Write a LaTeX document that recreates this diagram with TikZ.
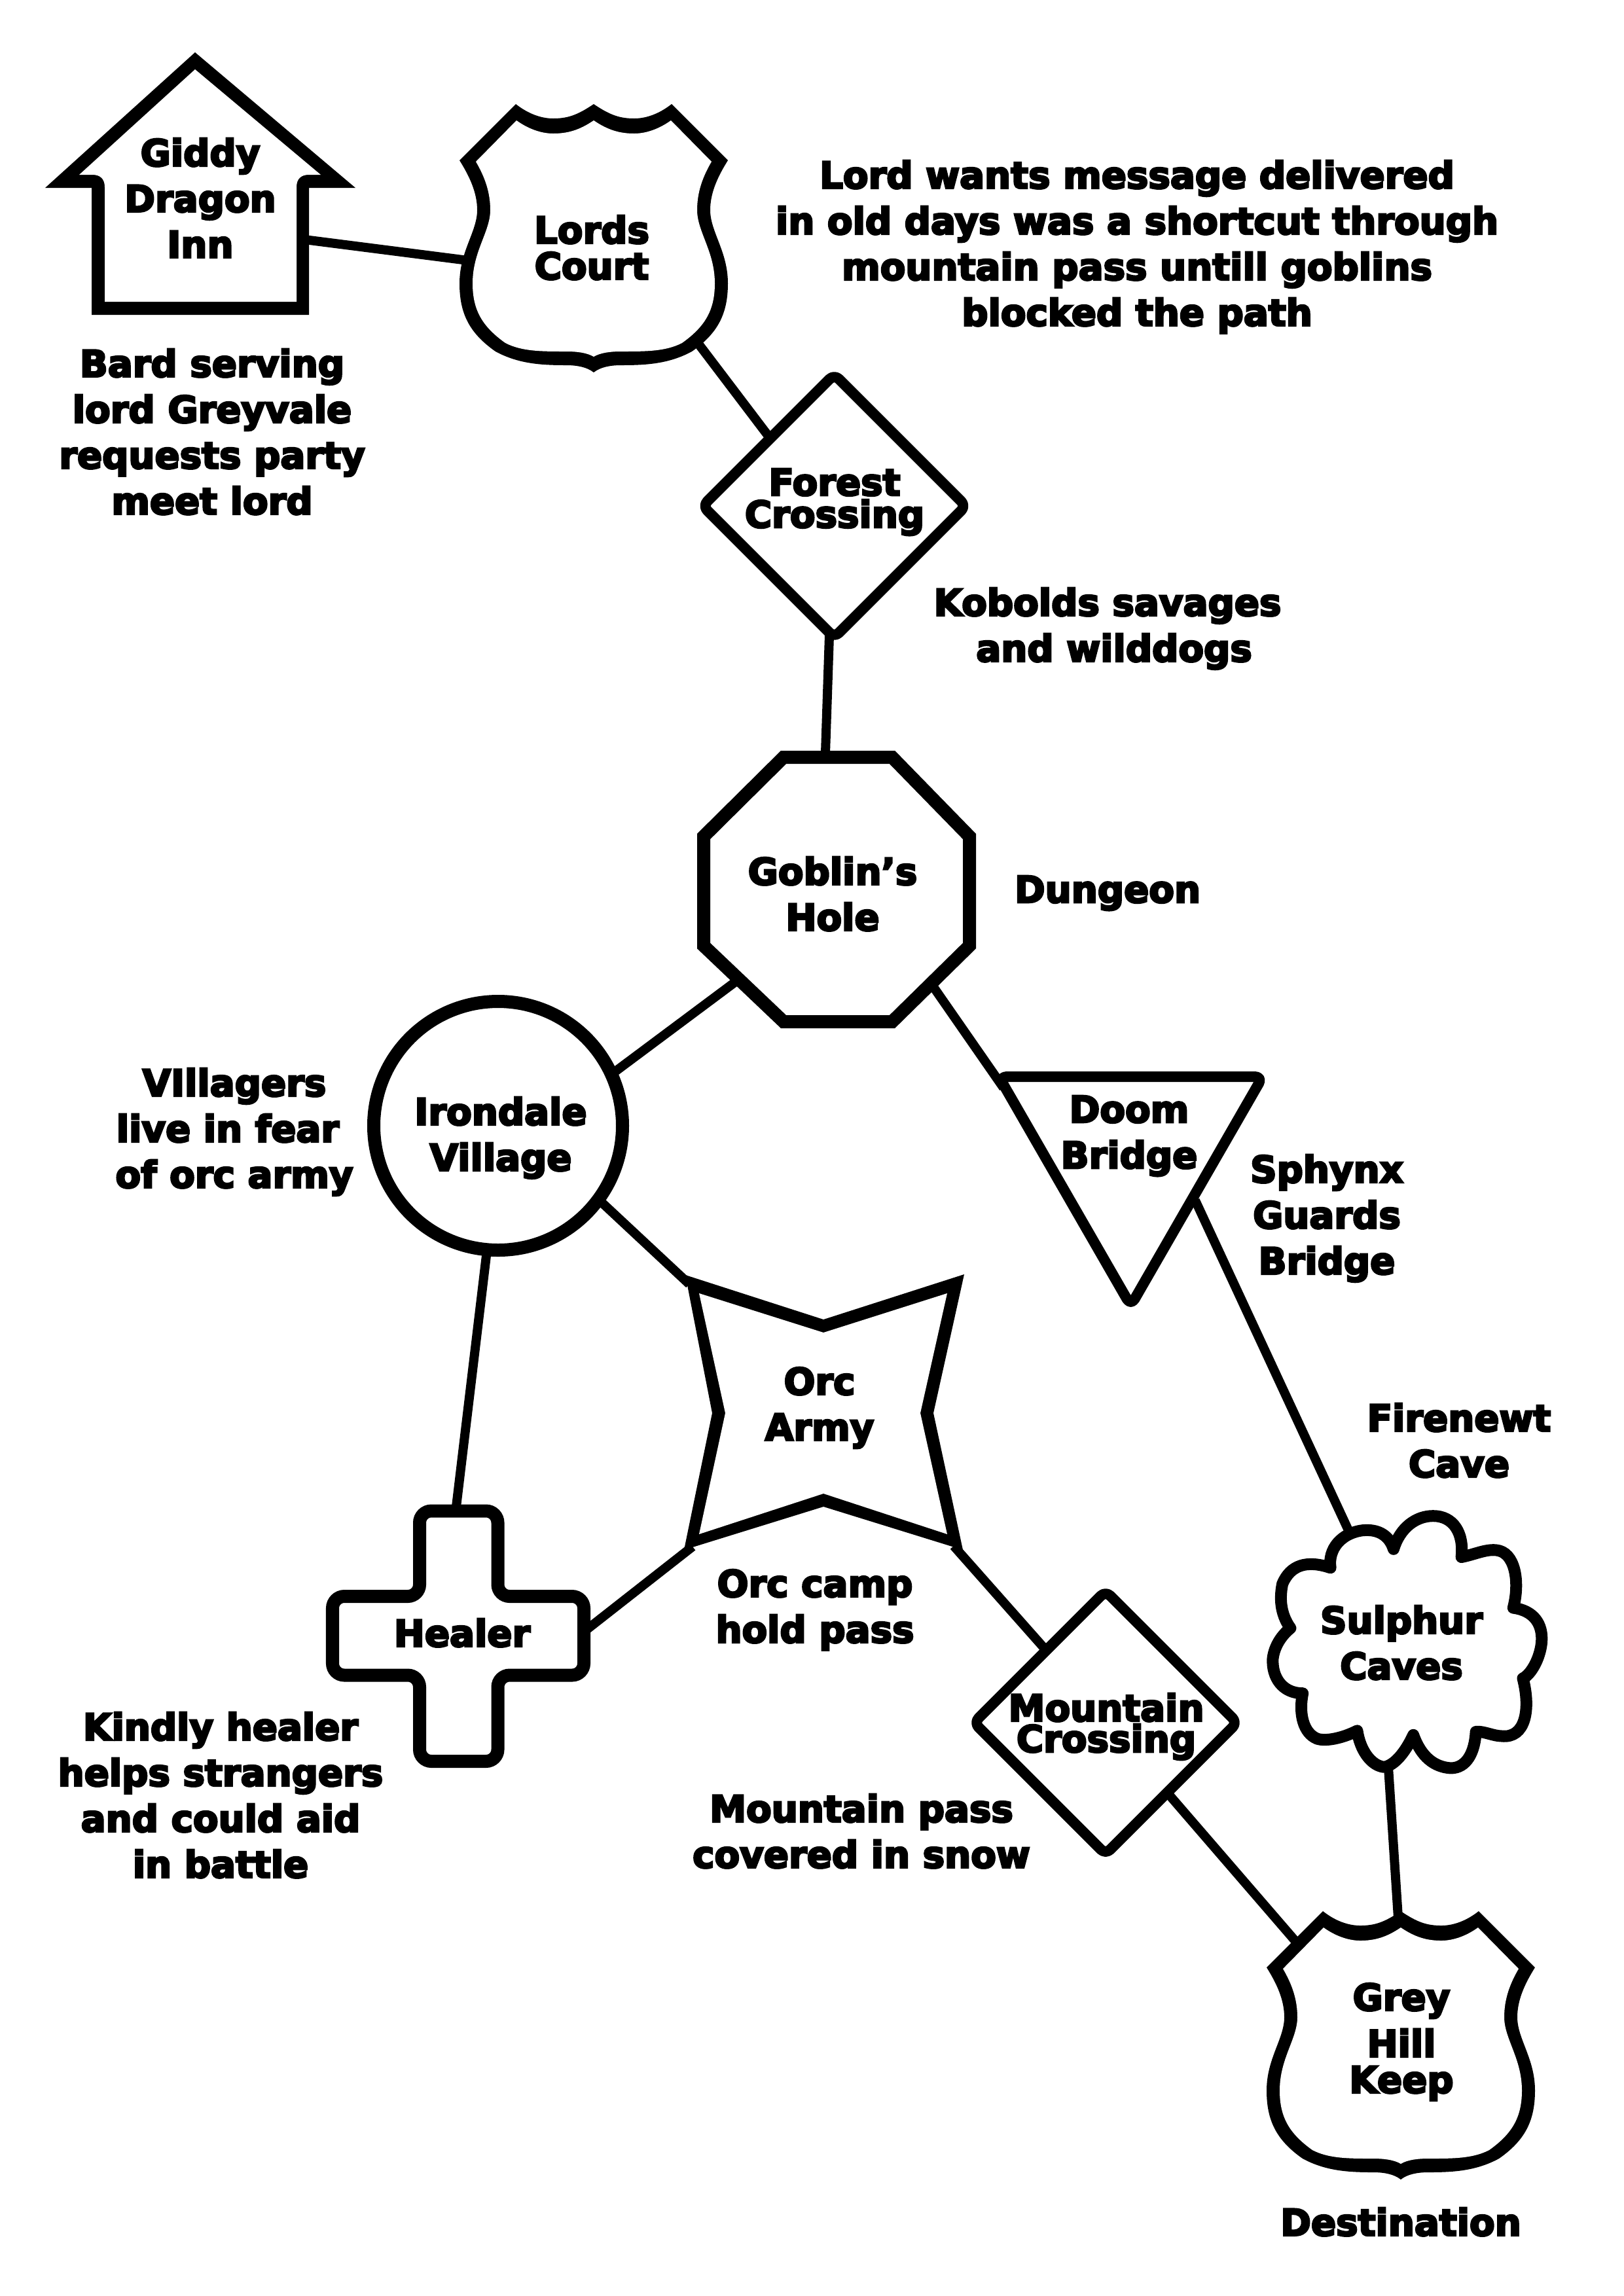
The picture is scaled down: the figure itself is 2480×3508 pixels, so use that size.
\documentclass[tikz,border=0pt]{standalone}
\usepackage{fontspec}
\setmainfont{DejaVu Sans}[BoldFeatures={FakeBold=5}]
\tikzset{
  labelbox/.style={anchor=north,inner sep=0pt,outer sep=0pt,align=center,text=black,
    font=\fontsize{16pt}{#1}\selectfont\bfseries},
  labelbox/.default=19.9pt,
  link/.style={draw=black,line width=0.14cm},
  outline/.style={draw=black,fill=white,line width=0.16cm},
  diamondshape/.pic={
    \path[outline,line join=round,rounded corners=0.1cm] (0,-201) -- (201,0) -- (0,201) -- (-201,0) -- cycle;
  },
  shieldshape/.pic={
    \fill[black] (0,0) .. controls (-25,17) and (-40,22) .. (-62,22)
      .. controls (-80,22) and (-100,15) .. (-119,0) -- (-205,86)
      .. controls (-190,110) and (-178,135) .. (-178,162)
      .. controls (-178,195) and (-205,225) .. (-205,274)
      .. controls (-205,320) and (-190,350) .. (-150,378)
      .. controls (-115,397) and (-80,399) .. (-42,399)
      .. controls (-25,399) and (-10,402) .. (0,410)
      .. controls (10,402) and (25,399) .. (42,399)
      .. controls (80,399) and (115,397) .. (150,378)
      .. controls (190,350) and (205,320) .. (205,274)
      .. controls (205,225) and (178,195) .. (178,162)
      .. controls (178,135) and (190,110) .. (205,86) -- (119,0)
      .. controls (100,15) and (80,22) .. (62,22)
      .. controls (40,22) and (25,17) .. (0,0) -- cycle;
    \fill[white] (0,25) .. controls (-22,40) and (-40,45) .. (-62,45)
      .. controls (-80,45) and (-100,38) .. (-118,25) -- (-180,88)
      .. controls (-166,112) and (-158,135) .. (-158,162)
      .. controls (-158,195) and (-185,225) .. (-185,274)
      .. controls (-185,315) and (-170,340) .. (-135,365)
      .. controls (-110,378) and (-80,378) .. (-42,378)
      .. controls (-25,378) and (-10,380) .. (0,386)
      .. controls (10,380) and (25,378) .. (42,378)
      .. controls (80,378) and (110,378) .. (135,365)
      .. controls (170,340) and (185,315) .. (185,274)
      .. controls (185,225) and (158,195) .. (158,162)
      .. controls (158,135) and (166,112) .. (180,88) -- (118,25)
      .. controls (100,38) and (80,45) .. (62,45)
      .. controls (40,45) and (22,40) .. (0,25) -- cycle;
  }
}
\begin{document}
\begin{tikzpicture}[x=0.01cm,y=-0.01cm]
\useasboundingbox (0,0) rectangle (2480,3508);
\fill[white] (0,0) rectangle (2480,3508);

% connector ends
\coordinate (innE) at (465,366);
\coordinate (courtW) at (715,398);
\coordinate (courtS) at (1063,520);
\coordinate (forestN) at (1176,669);
\coordinate (forestS) at (1267,971);
\coordinate (goblinN) at (1261,1150);
\coordinate (goblinW) at (1125,1499);
\coordinate (villageNE) at (936,1640);
\coordinate (goblinE) at (1424,1505);
\coordinate (doomW) at (1533,1662);
\coordinate (villageS) at (744,1910);
\coordinate (healerN) at (697,2302);
\coordinate (villageSE) at (918,1836);
\coordinate (orcNW) at (1053,1962);
\coordinate (orcSW) at (1058,2363);
\coordinate (healerE) at (896,2490);
\coordinate (orcSE) at (1457,2362);
\coordinate (mountainN) at (1596,2519);
\coordinate (doomE) at (1826,1834);
\coordinate (sulphurN) at (2060,2338);
\coordinate (sulphurS) at (2121,2700);
\coordinate (keepN) at (2136,2930);
\coordinate (mountainS) at (1785,2741);
\coordinate (keepW) at (1981,2968);

\draw[link] (innE) -- (courtW);
\draw[link] (courtS) -- (forestN);
\draw[link] (forestS) -- (goblinN);
\draw[link] (goblinW) -- (villageNE);
\draw[link] (goblinE) -- (doomW);
\draw[link] (villageS) -- (healerN);
\draw[link] (villageSE) -- (orcNW);
\draw[link] (orcSW) -- (healerE);
\draw[link] (orcSE) -- (mountainN);
\draw[link] (doomE) -- (sulphurN);
\draw[link] (sulphurS) -- (keepN);
\draw[link] (mountainS) -- (keepW);

% house
\fill[black] (298,80) -- (543,287) -- (472,287) -- (472,481) -- (140,481) -- (140,287) -- (69,287) -- cycle;
\fill[white] (298,106) -- (490,267) -- (472,267) .. controls (460,267) and (453,273) .. (453,286)
  -- (453,461) -- (160,461) -- (160,286) .. controls (160,273) and (153,267) .. (141,267) -- (121,267) -- cycle;

% shields
\pic at (907,159) {shieldshape};
\pic at (2140,2920) {shieldshape};

% diamonds
\pic at (1274.5,773) {diamondshape};
\pic at (1689,2632) {diamondshape};

% octagon
\path[outline,line width=0.2cm] (1197,1157) -- (1363,1157) -- (1481,1278) -- (1481,1445)
  -- (1363,1561) -- (1197,1561) -- (1075,1445) -- (1075,1278) -- cycle;

% circle
\path[outline,line width=0.2cm] (761,1720) circle [radius=190];

% triangle
\path[outline,line join=round,rounded corners=0.12cm] (1526,1645) -- (1929,1645) -- (1727.5,1995) -- cycle;

% star
\fill[black] (1047,1948) -- (1258,2016) -- (1473,1947) -- (1426,2159) -- (1471,2368)
  -- (1258,2302) -- (1045,2368) -- (1088,2159) -- cycle;
\fill[white] (1068,1976) -- (1258,2036) -- (1447,1976) -- (1406,2159) -- (1447,2344)
  -- (1258,2282) -- (1068,2344) -- (1108,2159) -- cycle;

% cross
\path[outline,line width=0.2cm,rounded corners=0.18cm]
  (641,2308.5) -- (760.5,2308.5) -- (760.5,2439) -- (892,2439) -- (892,2559.5) -- (760.5,2559.5)
  -- (760.5,2691) -- (641,2691) -- (641,2559.5) -- (508,2559.5) -- (508,2439) -- (641,2439) -- cycle;

% cloud
\begin{scope}[shift={(1200,2228)},scale=0.8163]
\path[outline,line width=0.18cm,line join=round]
  (1138,170) .. controls (1150,130) and (1180,108) .. (1212,108)
  .. controls (1250,108) and (1270,140) .. (1265,185)
  .. controls (1290,180) and (1310,170) .. (1330,172)
  .. controls (1365,175) and (1375,230) .. (1362,280)
  .. controls (1400,285) and (1418,310) .. (1415,345)
  .. controls (1412,375) and (1395,405) .. (1380,412)
  .. controls (1395,470) and (1385,525) .. (1340,520)
  .. controls (1325,520) and (1305,510) .. (1292,512)
  .. controls (1290,550) and (1275,580) .. (1245,580)
  .. controls (1215,578) and (1190,560) .. (1175,518)
  .. controls (1160,550) and (1140,575) .. (1120,578)
  .. controls (1095,575) and (1075,545) .. (1070,510)
  .. controls (1040,525) and (1010,530) .. (995,525)
  .. controls (970,515) and (960,480) .. (968,440)
  .. controls (930,440) and (910,410) .. (912,375)
  .. controls (915,350) and (930,330) .. (945,318)
  .. controls (925,290) and (925,260) .. (930,235)
  .. controls (945,200) and (975,190) .. (1020,205)
  .. controls (1015,170) and (1040,140) .. (1080,135)
  .. controls (1110,132) and (1130,145) .. (1138,170) -- cycle;
\end{scope}

% texts
\node[labelbox] (inn) at (306,211) {Giddy\\Dragon\\Inn};
\node[labelbox=15.65pt] (court) at (904,329) {Lords\\Court};
\node[labelbox] (bard) at (324,533) {Bard serving\\lord Greyvale\\requests party\\meet lord};
\node[labelbox] (quest) at (1737,245) {Lord wants message delivered\\in old days was a shortcut through\\mountain pass untill goblins\\blocked the path};
\node[labelbox=13.94pt] (forest) at (1275,716) {Forest\\Crossing};
\node[labelbox] (kobolds) at (1692,898) {Kobolds savages\\\hspace*{0.2cm}and wilddogs};
\node[labelbox] (goblin) at (1272,1309) {Goblin’s\\Hole};
\node[labelbox] (dungeon) at (1692,1338) {Dungeon};
\node[labelbox] (villagers) at (358,1632) {VIllagers\\live in fear\rule{0.2cm}{0pt}\\of orc army};
\node[labelbox] (village) at (765,1676) {Irondale\\Village};
\node[labelbox] (doom) at (1725,1674) {Doom\\Bridge};
\node[labelbox] (sphynx) at (2027,1764) {Sphynx\\Guards\\Bridge};
\node[labelbox] (firenewt) at (2229,2144) {Firenewt\\Cave};
\node[labelbox] (orc) at (1252,2089) {Orc\\Army};
\node[labelbox] (camp) at (1245,2398) {Orc camp\\hold pass};
\node[labelbox] (healer) at (706,2473) {Healer};
\node[labelbox] (kindly) at (337,2616) {Kindly healer\\helps strangers\\and could aid\\in battle};
\node[labelbox] (snow) at (1316,2741) {Mountain pass\\covered in snow};
\node[labelbox=13.4pt] (mountain) at (1690,2587) {Mountain\\Crossing};
\node[labelbox] (sulphur) at (2141,2453) {Sulphur\\Caves};
\node[labelbox=15.65pt] (keep) at (2141,3030) {Grey\\[4.5pt]Hill\\Keep};
\node[labelbox] (destination) at (2140,3373) {Destination};
\end{tikzpicture}
\end{document}
